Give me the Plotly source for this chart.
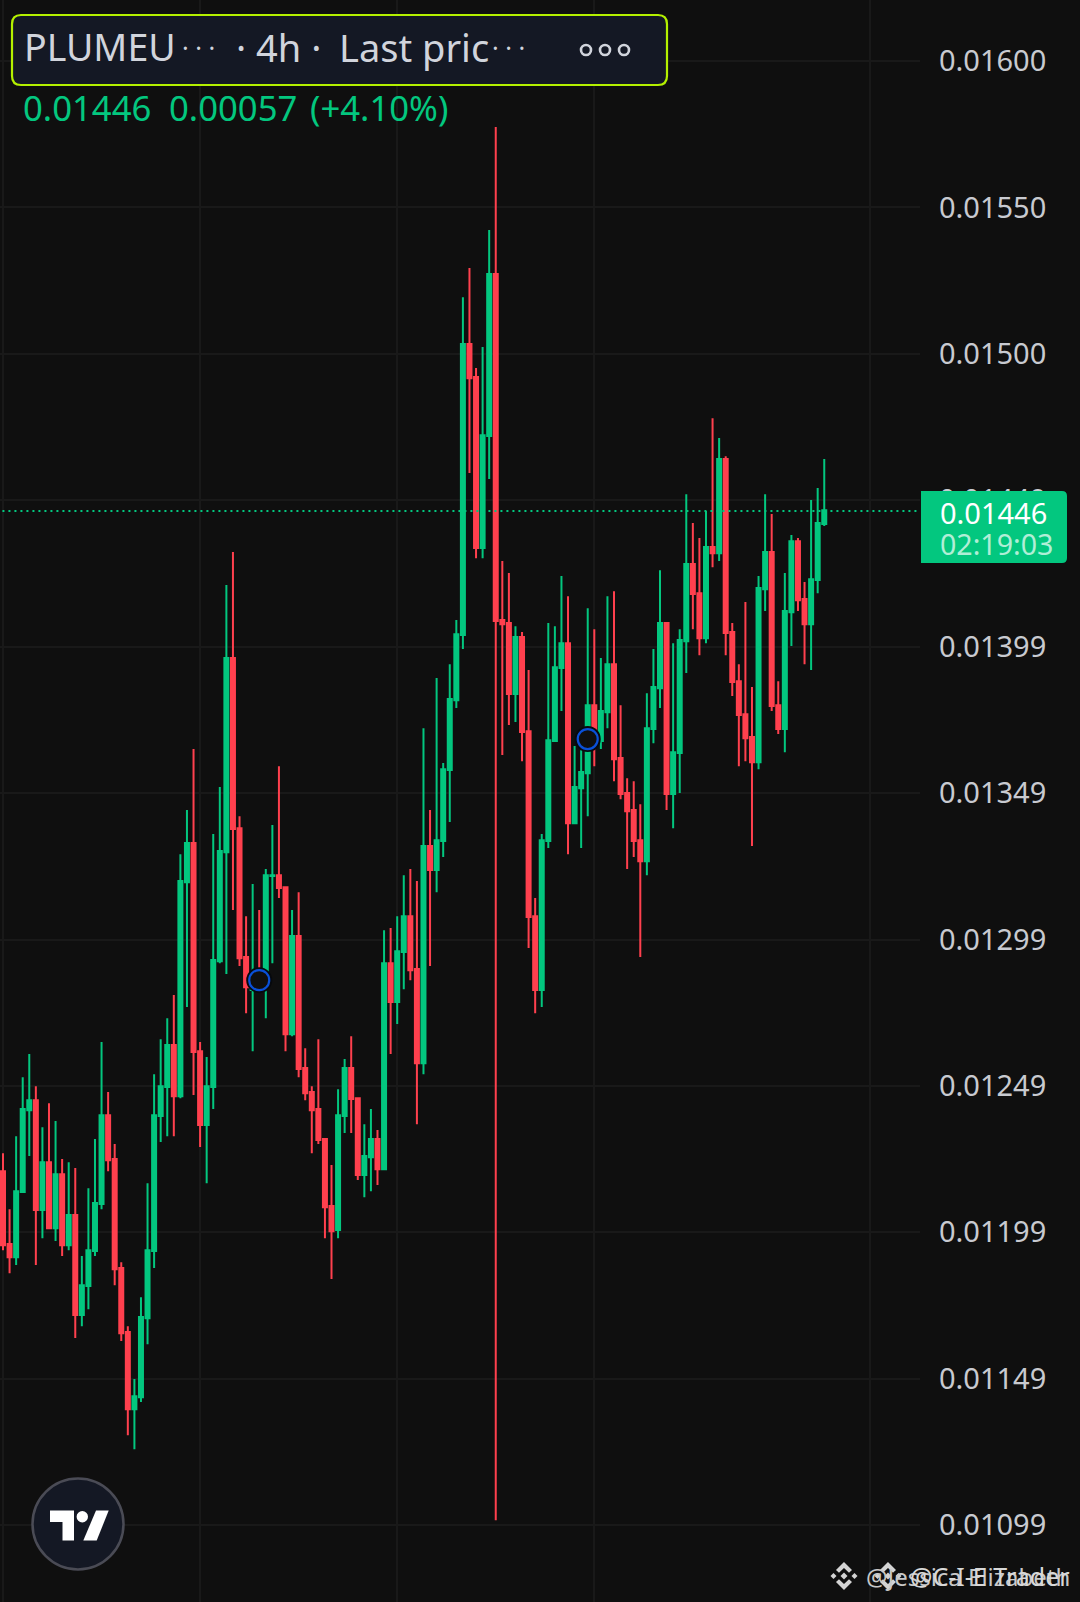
import plotly.graph_objects as go

W, H = 1080, 1602
BG = "#0f0f0f"
GREEN = "#03c77f"
RED = "#ff404e"
GRID = "#191919"
FONT = "Noto Sans, Noto Sans CJK SC, sans-serif"

# Candles (high, open, close, low), 4h bars in chart order
high = [
0.012263,0.012071,0.012321,0.012523,0.012602,0.012492,0.012352,0.012434,0.012373,0.012243,
0.012232,0.012212,0.011911,0.012143,0.012311,0.012643,0.012472,0.012294,0.011890,0.011671,
0.011490,0.011770,0.012160,0.012533,0.012653,0.012725,0.012804,0.013286,0.013437,0.013646,
0.012643,0.012592,0.013355,0.013516,0.014207,0.014320,0.013416,0.013074,0.013184,0.013095,
0.013235,0.013386,0.013587,0.013173,0.013095,0.013156,0.012622,0.012492,0.012653,0.012311,
0.012222,0.012482,0.012585,0.012663,0.012451,0.012362,0.012414,0.012342,0.013026,0.013033,
0.013074,0.013214,0.013235,0.013194,0.013717,0.013437,0.013889,0.013598,0.013936,0.014087,
0.015192,0.015292,0.014950,0.015022,0.015422,0.015774,0.014289,0.014248,0.014066,0.014046,
0.013916,0.013136,0.013355,0.014077,0.014066,0.014238,0.014169,0.013656,0.013642,0.014128,
0.014056,0.013957,0.014169,0.014186,0.013796,0.013546,0.013536,0.013457,0.013837,0.013988,
0.014258,0.014077,0.014008,0.014056,0.014518,0.014419,0.014368,0.014460,0.014778,0.014710,
0.014648,0.014077,0.013936,0.014149,0.013858,0.014238,0.014518,0.014450,0.013878,0.014248,
0.014378,0.014368,0.014217,0.014498,0.014539,0.014638]
open_ = [
0.012201,0.011952,0.011907,0.012130,0.012410,0.012444,0.012068,0.012232,0.012006,0.012191,
0.011948,0.012051,0.011709,0.011808,0.011928,0.012089,0.012393,0.012243,0.011870,0.011651,
0.011387,0.011428,0.011698,0.011928,0.012390,0.012489,0.012633,0.012458,0.013190,0.013324,
0.012612,0.012359,0.012489,0.012920,0.013293,0.013957,0.013375,0.012934,0.012821,0.012882,
0.012886,0.013211,0.013214,0.013173,0.012670,0.013006,0.012554,0.012472,0.012414,0.012311,
0.012082,0.012000,0.012390,0.012554,0.012451,0.012188,0.012249,0.012311,0.012208,0.012913,
0.012780,0.012951,0.013074,0.012893,0.012571,0.013314,0.013232,0.013331,0.013574,0.013813,
0.014036,0.015032,0.014919,0.014334,0.014717,0.015271,0.014087,0.014077,0.013834,0.014029,
0.013707,0.013074,0.012821,0.013331,0.013673,0.013923,0.014008,0.013392,0.013512,0.013563,
0.013796,0.013673,0.013772,0.013936,0.013615,0.013495,0.013437,0.013334,0.013262,0.013714,
0.013854,0.014077,0.013492,0.013632,0.014015,0.014279,0.014179,0.014025,0.014337,0.014316,
0.014638,0.014046,0.013878,0.013765,0.013687,0.013601,0.014193,0.014320,0.013796,0.013714,
0.014114,0.014357,0.014159,0.014073,0.014224,0.014416]
close = [
0.011948,0.011907,0.012133,0.012414,0.012444,0.012068,0.012232,0.012006,0.012191,0.011948,
0.012051,0.011709,0.011811,0.011931,0.012092,0.012393,0.012239,0.011866,0.011647,0.011387,
0.011431,0.011702,0.011931,0.012393,0.012492,0.012633,0.012458,0.013194,0.013324,0.012609,
0.012359,0.012492,0.012924,0.013297,0.013957,0.013372,0.012930,0.012831,0.012872,0.012838,
0.013214,0.013214,0.013170,0.012670,0.013006,0.012551,0.012468,0.012410,0.012308,0.012078,
0.011996,0.012393,0.012554,0.012448,0.012188,0.012253,0.012311,0.012208,0.012913,0.012780,
0.012954,0.013074,0.012889,0.012571,0.013314,0.013232,0.013334,0.013577,0.013817,0.014039,
0.015032,0.014915,0.014334,0.014720,0.015271,0.014084,0.014073,0.013834,0.014029,0.013704,
0.013071,0.012821,0.013334,0.013676,0.013926,0.014008,0.013392,0.013516,0.013567,0.013796,
0.013711,0.013776,0.013936,0.013611,0.013492,0.013433,0.013331,0.013262,0.013717,0.013858,
0.014077,0.013492,0.013635,0.014019,0.014279,0.014176,0.014025,0.014337,0.014316,0.014638,
0.014043,0.013875,0.013762,0.013683,0.013601,0.014197,0.014320,0.013793,0.013714,0.014118,
0.014357,0.014155,0.014073,0.014227,0.014419,0.014463]
low = [
0.011931,0.011852,0.011880,0.012130,0.012253,0.011880,0.011972,0.012006,0.011962,0.011911,
0.011931,0.011630,0.011671,0.011729,0.011911,0.012071,0.012201,0.011811,0.011620,0.011298,
0.011250,0.011411,0.011609,0.011870,0.012301,0.012321,0.012321,0.012451,0.012763,0.012462,
0.012284,0.012160,0.012414,0.012913,0.012876,0.013095,0.012903,0.012742,0.012612,0.012821,
0.012725,0.012913,0.013136,0.012612,0.012663,0.012523,0.012444,0.012263,0.012294,0.011972,
0.011832,0.011972,0.012332,0.012332,0.012171,0.012112,0.012133,0.012154,0.012208,0.012602,
0.012705,0.012824,0.012855,0.012362,0.012533,0.012903,0.013156,0.013276,0.013396,0.013786,
0.013988,0.014590,0.014299,0.014299,0.014570,0.011007,0.013625,0.013728,0.013738,0.013604,
0.012965,0.012742,0.012763,0.013307,0.013673,0.013776,0.013286,0.013392,0.013307,0.013416,
0.013587,0.013646,0.013717,0.013536,0.013474,0.013235,0.013276,0.012934,0.013214,0.013666,
0.013786,0.013437,0.013375,0.013495,0.013906,0.014056,0.013967,0.014008,0.014268,0.014289,
0.013967,0.013827,0.013587,0.013604,0.013314,0.013577,0.014118,0.013776,0.013697,0.013635,
0.013998,0.014118,0.013936,0.013916,0.014179,0.014409]
candle_index = list(range(len(high)))

# Axis labels as shown on the price scale
price_labels = ["0.01600","0.01550","0.01500","0.01449","0.01399","0.01349","0.01299","0.01249","0.01199","0.01149","0.01099"]
tick_positions = [0.01600,0.015499,0.014998,0.014497,0.013996,0.013495,0.012994,0.012493,0.011992,0.011491,0.01099]
grid_candles = [0, 30, 60, 90, 132]
last_price = 0.01446
last_label = "0.01446"
countdown = "02:19:03"
change_label = "0.00057"
pct_label = "(+4.10%)"
marker_index = [39, 89]
marker_price = [0.012855, 0.01368]

def X(px): return px / W
def Y(py): return 1 - py / H

def path(points, close_it=True):
    s = "M" + " L".join(f"{X(a):.5f} {Y(b):.5f}" for a, b in points)
    return s + (" Z" if close_it else "")

def poly(points, color):
    return dict(type="path", xref="paper", yref="paper", path=path(points), fillcolor=color,
                line=dict(width=0), layer="above")

def circle(cx, cy, r, fill, line_color=None, lw=0):
    return dict(type="circle", xref="paper", yref="paper", x0=X(cx - r), x1=X(cx + r),
                y0=Y(cy + r), y1=Y(cy - r), fillcolor=fill, layer="above",
                line=dict(color=line_color or fill, width=lw))

def rounded(x0, y0, x1, y1, rl, rr):
    s = f"M{X(x0+rl):.5f} {Y(y0):.5f} L{X(x1-rr):.5f} {Y(y0):.5f} "
    if rr: s += f"Q{X(x1):.5f} {Y(y0):.5f} {X(x1):.5f} {Y(y0+rr):.5f} "
    s += f"L{X(x1):.5f} {Y(y1-rr):.5f} "
    if rr: s += f"Q{X(x1):.5f} {Y(y1):.5f} {X(x1-rr):.5f} {Y(y1):.5f} "
    s += f"L{X(x0+rl):.5f} {Y(y1):.5f} "
    if rl: s += f"Q{X(x0):.5f} {Y(y1):.5f} {X(x0):.5f} {Y(y1-rl):.5f} "
    s += f"L{X(x0):.5f} {Y(y0+rl):.5f} "
    if rl: s += f"Q{X(x0):.5f} {Y(y0):.5f} {X(x0+rl):.5f} {Y(y0):.5f} "
    return s + "Z"

def label(text, x, y, size, color, anchor="left"):
    return dict(text=text, x=X(x), y=Y(y), xref="paper", yref="paper", showarrow=False,
                xanchor=anchor, yanchor="middle", font=dict(family=FONT, size=size, color=color))

fig = go.Figure()
fig.add_trace(go.Candlestick(
    x=candle_index, open=open_, high=high, low=low, close=close, whiskerwidth=0,
    increasing=dict(line=dict(color=GREEN, width=2), fillcolor=GREEN),
    decreasing=dict(line=dict(color=RED, width=2), fillcolor=RED),
    hoverinfo="skip", showlegend=False))
fig.add_trace(go.Scatter(
    x=[-1, 141], y=[last_price, last_price], mode="lines",
    line=dict(color=GREEN, width=2, dash="2px,4px"), hoverinfo="skip", showlegend=False))
fig.add_trace(go.Scatter(
    x=marker_index, y=marker_price, mode="markers",
    marker=dict(size=26, color="#07090d", line=dict(width=0)), hoverinfo="skip", showlegend=False))
fig.add_trace(go.Scatter(
    x=marker_index, y=marker_price, mode="markers",
    marker=dict(size=20, color=BG, line=dict(color="#0a50d8", width=2.2)), hoverinfo="skip", showlegend=False))

shapes = []
# Header panel
shapes.append(dict(type="path", xref="paper", yref="paper", path=rounded(12, 15, 667, 85, 9, 9),
                   fillcolor="#141824", line=dict(color="#b4f000", width=2.2), layer="above"))
for cx in (586, 605, 624):
    shapes.append(circle(cx, 50, 5, "rgba(0,0,0,0)", "#d1d4dc", 2.6))
# Price flag
shapes.append(dict(type="path", xref="paper", yref="paper", path=rounded(921, 491, 1067, 563, 0, 5),
                   fillcolor=GREEN, line=dict(width=0), layer="above"))
# TradingView badge
shapes.append(circle(78, 1524, 45.5, "#141824", "#4a4b55", 2.5))
shapes.append(poly([(50, 1510.5), (74, 1510.5), (74, 1540.5), (62.5, 1540.5), (62.5, 1522), (50, 1522)], "#ffffff"))
shapes.append(circle(82.3, 1516.7, 5.7, "#ffffff"))
shapes.append(poly([(96, 1510.5), (108.7, 1510.5), (96.7, 1540.5), (83.3, 1540.5)], "#ffffff"))
# Exchange marks of the two overlaid signatures
for cx in (844, 888):
    c = "#d4d4d4"
    cy = 1576
    shapes.append(poly([(cx, cy - 3.5), (cx + 3.5, cy), (cx, cy + 3.5), (cx - 3.5, cy)], c))
    for dx in (-10.5, 10.5):
        shapes.append(poly([(cx + dx, cy - 3), (cx + dx + 3, cy), (cx + dx, cy + 3), (cx + dx - 3, cy)], c))
    for s in (-1, 1):
        shapes.append(poly([(cx, cy + s * 14), (cx + 8, cy + s * 6), (cx + 5, cy + s * 3.2), (cx, cy + s * 8),
                            (cx - 5, cy + s * 3.2), (cx - 8, cy + s * 6)], c))

annotations = [
    label("PLUMEU", 22, 47, 37.5, "#d1d4dc"),
    label("· · ·", 180, 47, 25, "#d1d4dc"),
    label("· 4h ·", 234, 47, 38, "#d1d4dc"),
    label("Last pric", 337, 47, 38, "#d1d4dc"),
    label("· · ·", 490, 47, 25, "#d1d4dc"),
    label(last_label, 21, 107, 34.7, GREEN),
    label(change_label, 167, 107, 34.7, GREEN),
    label(pct_label, 308, 107, 34.7, GREEN),
    label(last_label, 938, 512, 29, "#ffffff"),
    label(countdown, 938, 544, 28.6, "#b0eed6"),
    label("@Jessica Elizabeth", 1072, 1576, 24, "#c8c8c8", "right"),
    label("@C-I-E Trader", 1072, 1576, 25, "#d8d8d8", "right"),
]

SPACING = 6.57
x_left = -3 / SPACING
x_right = (920 - 3) / SPACING
fig.update_layout(
    width=W, height=H, margin=dict(l=0, r=0, t=0, b=0, autoexpand=False),
    paper_bgcolor=BG, plot_bgcolor=BG, showlegend=False, hovermode=False, boxgap=0.39, boxgroupgap=0,
    xaxis=dict(domain=[0, 920 / W], range=[x_left, x_right], rangeslider=dict(visible=False),
               tickmode="array", tickvals=grid_candles, ticktext=[""] * len(grid_candles),
               showgrid=True, gridcolor=GRID, gridwidth=2, zeroline=False, showline=False,
               ticks="", fixedrange=True),
    yaxis=dict(side="right", range=[0.010727, 0.016209], tickmode="array",
               tickvals=tick_positions, ticktext=price_labels, showgrid=True, gridcolor=GRID, gridwidth=2,
               zeroline=False, showline=False, ticks="", ticklabelstandoff=18, fixedrange=True,
               tickfont=dict(family=FONT, size=29, color="#c8cad0")),
    shapes=shapes, annotations=annotations)

fig.write_html("out.html", config=dict(displayModeBar=False, staticPlot=True),
               post_script="document.body.style.margin='0';document.body.style.background='#0f0f0f';")
